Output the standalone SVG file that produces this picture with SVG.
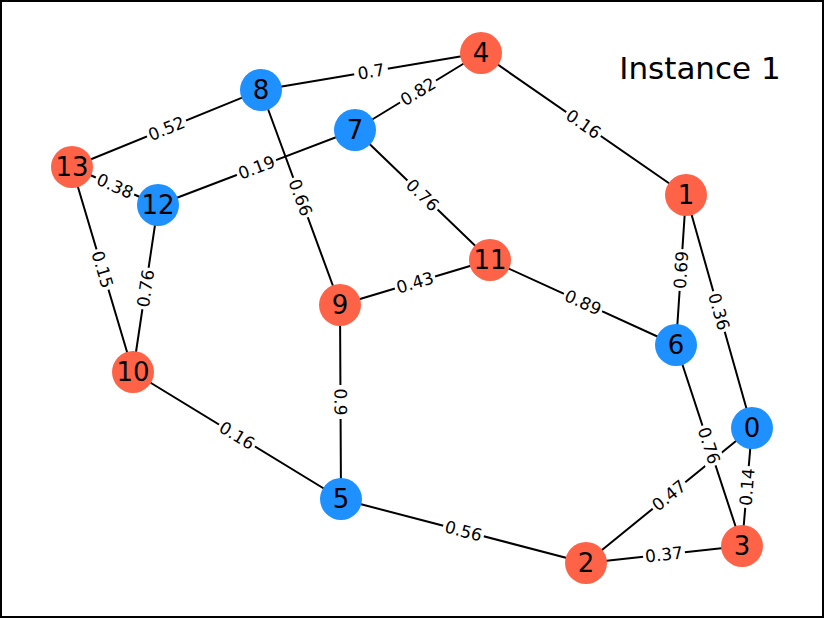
<svg xmlns="http://www.w3.org/2000/svg" width="825" height="619" viewBox="0 0 825 619">
<style>
.e{stroke:#000;stroke-width:2;fill:none}
.lb{font-family:"DejaVu Sans",sans-serif;font-size:17px;text-anchor:middle;dominant-baseline:central}
.bg{fill:#fff}
.r{fill:#FF6347}.b{fill:#1E90FF}
.n{font-family:"DejaVu Sans",sans-serif;font-size:26px;text-anchor:middle;dominant-baseline:central;fill:#000}
</style>
<rect x="1" y="1" width="822" height="616" fill="#fff" stroke="#000" stroke-width="2"/>
<g id="edges">
<path class="e" d="M261 90L481 53M355 130L481 53M481 53L686 195M72 167L261 90M261 90L340 305M158 205L355 130M355 130L490 260M72 167L158 205M72 167L133 372M158 205L133 372M686 195L676 345M686 195L752 428M340 305L490 260M490 260L676 345M340 305L341 499M676 345L742 546M586 563L752 428M752 428L742 546M133 372L341 499M341 499L586 563M586 563L742 546"/>
<g class="lb">
<g transform="translate(371,71.5) rotate(-9.5)"><rect class="bg" x="-17" y="-10" width="34" height="20"/><text>0.7</text></g>
<g transform="translate(418,91.5) rotate(-31.4)"><rect class="bg" x="-21" y="-10" width="42" height="20"/><text>0.82</text></g>
<g transform="translate(583.5,124) rotate(34.7)"><rect class="bg" x="-21" y="-10" width="42" height="20"/><text>0.16</text></g>
<g transform="translate(166.5,128.5) rotate(-22.2)"><rect class="bg" x="-21" y="-10" width="42" height="20"/><text>0.52</text></g>
<g transform="translate(300.5,197.5) rotate(69.8)"><rect class="bg" x="-21" y="-10" width="42" height="20"/><text>0.66</text></g>
<g transform="translate(256.5,167.5) rotate(-20.8)"><rect class="bg" x="-21" y="-10" width="42" height="20"/><text>0.19</text></g>
<g transform="translate(422.5,195) rotate(43.9)"><rect class="bg" x="-21" y="-10" width="42" height="20"/><text>0.76</text></g>
<g transform="translate(115,186) rotate(23.8)"><rect class="bg" x="-21" y="-10" width="42" height="20"/><text>0.38</text></g>
<g transform="translate(102.5,269.5) rotate(73.4)"><rect class="bg" x="-21" y="-10" width="42" height="20"/><text>0.15</text></g>
<g transform="translate(145.5,288.5) rotate(-81.5)"><rect class="bg" x="-21" y="-10" width="42" height="20"/><text>0.76</text></g>
<g transform="translate(681,270) rotate(-86.2)"><rect class="bg" x="-21" y="-10" width="42" height="20"/><text>0.69</text></g>
<g transform="translate(719,311.5) rotate(74.2)"><rect class="bg" x="-21" y="-10" width="42" height="20"/><text>0.36</text></g>
<g transform="translate(415,282.5) rotate(-16.7)"><rect class="bg" x="-21" y="-10" width="42" height="20"/><text>0.43</text></g>
<g transform="translate(583,302.5) rotate(24.6)"><rect class="bg" x="-21" y="-10" width="42" height="20"/><text>0.89</text></g>
<g transform="translate(340.5,402) rotate(89.7)"><rect class="bg" x="-17" y="-10" width="34" height="20"/><text>0.9</text></g>
<g transform="translate(709,445.5) rotate(71.8)"><rect class="bg" x="-21" y="-10" width="42" height="20"/><text>0.76</text></g>
<g transform="translate(669,495.5) rotate(-39.1)"><rect class="bg" x="-21" y="-10" width="42" height="20"/><text>0.47</text></g>
<g transform="translate(747,487) rotate(-85.2)"><rect class="bg" x="-21" y="-10" width="42" height="20"/><text>0.14</text></g>
<g transform="translate(237,435.5) rotate(31.4)"><rect class="bg" x="-21" y="-10" width="42" height="20"/><text>0.16</text></g>
<g transform="translate(463.5,531) rotate(14.6)"><rect class="bg" x="-21" y="-10" width="42" height="20"/><text>0.56</text></g>
<g transform="translate(664,554.5) rotate(-6.2)"><rect class="bg" x="-21" y="-10" width="42" height="20"/><text>0.37</text></g>
</g>
</g>
<g id="n4"><circle class="r" cx="481" cy="53" r="21"/><text class="n" x="481" y="53">4</text></g>
<g id="n8"><circle class="b" cx="261" cy="90" r="21"/><text class="n" x="261" y="90">8</text></g>
<g id="n7"><circle class="b" cx="355" cy="130" r="21"/><text class="n" x="355" y="130">7</text></g>
<g id="n13"><circle class="r" cx="72" cy="167" r="21"/><text class="n" x="72" y="167">13</text></g>
<g id="n12"><circle class="b" cx="158" cy="205" r="21"/><text class="n" x="158" y="205">12</text></g>
<g id="n1"><circle class="r" cx="686" cy="195" r="21"/><text class="n" x="686" y="195">1</text></g>
<g id="n11"><circle class="r" cx="490" cy="260" r="21"/><text class="n" x="490" y="260">11</text></g>
<g id="n9"><circle class="r" cx="340" cy="305" r="21"/><text class="n" x="340" y="305">9</text></g>
<g id="n6"><circle class="b" cx="676" cy="345" r="21"/><text class="n" x="676" y="345">6</text></g>
<g id="n10"><circle class="r" cx="133" cy="372" r="21"/><text class="n" x="133" y="372">10</text></g>
<g id="n0"><circle class="b" cx="752" cy="428" r="21"/><text class="n" x="752" y="428">0</text></g>
<g id="n5"><circle class="b" cx="341" cy="499" r="21"/><text class="n" x="341" y="499">5</text></g>
<g id="n3"><circle class="r" cx="742" cy="546" r="21"/><text class="n" x="742" y="546">3</text></g>
<g id="n2"><circle class="r" cx="586" cy="563" r="21"/><text class="n" x="586" y="563">2</text></g>
<text x="700" y="68" font-family="DejaVu Sans, sans-serif" font-size="31" text-anchor="middle" dominant-baseline="central">Instance 1</text>
</svg>
